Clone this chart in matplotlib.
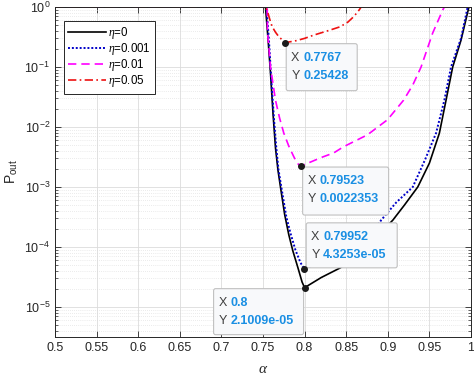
import matplotlib
matplotlib.use("Agg")
import matplotlib.pyplot as plt
from matplotlib.patches import FancyBboxPatch
from matplotlib.transforms import IdentityTransform
from matplotlib.ticker import LogLocator, FixedLocator

plt.rcParams['font.family'] = ['Liberation Sans', 'DejaVu Sans']
plt.rcParams['mathtext.fontset'] = 'custom'
plt.rcParams['mathtext.rm'] = 'Liberation Sans'
plt.rcParams['mathtext.it'] = 'Liberation Serif:italic'
plt.rcParams['mathtext.bf'] = 'Liberation Sans:bold'

# ---- data ----
labels = ['$\\eta$=0', '$\\eta$=0.001', '$\\eta$=0.01', '$\\eta$=0.05']

alpha_eta0 = [0.5, 0.753, 0.756, 0.759, 0.762, 0.765, 0.768, 0.7715, 0.776, 0.781, 0.786,
              0.792, 0.797, 0.8, 0.82, 0.843, 0.875, 0.906, 0.92, 0.936, 0.95, 0.962,
              0.970, 0.978, 0.988, 0.9975, 1.0]
p_eta0 = [1, 1, 0.3, 0.08, 0.017, 4.5e-3, 1.9e-3, 9.0e-4, 3.5e-4, 1.6e-4, 8.5e-5,
          4.5e-5, 2.6e-5, 2.1009e-5, 3.1e-5, 4.5e-5, 1.0e-4, 2.8e-4, 5.0e-4, 1.0e-3, 2.5e-3, 7.9e-3,
          0.028, 0.1, 0.28, 1, 1]

alpha_eta001 = [0.5, 0.754, 0.757, 0.760, 0.7635, 0.766, 0.7685, 0.772, 0.778, 0.783, 0.789,
                0.795, 0.7995, 0.82, 0.845, 0.867, 0.880, 0.892, 0.910, 0.930, 0.945, 0.958,
                0.968, 0.976, 0.988, 0.996, 1.0]
p_eta001 = [1, 1, 0.3, 0.06, 0.012, 4.5e-3, 2.0e-3, 1.0e-3, 3.2e-4, 1.7e-4, 8.9e-5,
            5.5e-5, 4.3253e-5, 5.6e-5, 7.0e-5, 8.9e-5, 1.6e-4, 2.8e-4, 5.5e-4, 1.0e-3, 2.9e-3, 7.9e-3,
            0.028, 0.1, 0.3, 1, 1]

alpha_eta01 = [0.5, 0.755, 0.7555, 0.7574, 0.759, 0.765, 0.770, 0.775, 0.781, 0.787, 0.791,
               0.7952, 0.807, 0.820, 0.835, 0.847, 0.8755, 0.8996, 0.919, 0.930, 0.940,
               0.954, 0.966, 0.968, 1.0]
p_eta01 = [1, 1, 0.37, 0.19, 0.1, 0.028, 0.014, 7.9e-3, 4.8e-3, 3.2e-3, 2.5e-3,
           2.2353e-3, 2.6e-3, 3.1e-3, 3.7e-3, 4.7e-3, 7.4e-3, 0.0132, 0.028, 0.05, 0.1,
           0.37, 0.89, 1, 1]

alpha_eta05 = [0.5, 0.752, 0.755, 0.758, 0.761, 0.765, 0.769, 0.7767, 0.79, 0.800, 0.811,
               0.83, 0.843, 0.852, 0.859, 0.865, 0.868, 1.0]
p_eta05 = [1, 1, 0.89, 0.63, 0.47, 0.38, 0.32, 0.25428, 0.275, 0.30, 0.34,
           0.41, 0.47, 0.56, 0.69, 0.87, 1, 1]

tips_x = [0.7767, 0.79523, 0.79952, 0.8]
tips_y = [0.25428, 0.0022353, 4.3253e-05, 2.1009e-05]
tips_xtxt = ['0.7767', '0.79523', '0.79952', '0.8']
tips_ytxt = ['0.25428', '0.0022353', '4.3253e-05', '2.1009e-05']

xticks = [0.5, 0.55, 0.6, 0.65, 0.7, 0.75, 0.8, 0.85, 0.9, 0.95, 1.0]
xticklabels = ['0.5', '0.55', '0.6', '0.65', '0.7', '0.75', '0.8', '0.85', '0.9', '0.95', '1']

# ---- figure ----
fig = plt.figure(figsize=(4.74, 3.75), dpi=100)
ax = fig.add_axes([55/474, 1-337/375, (471-55)/474, (337-7)/375])
axcol = '#262626'

ax.plot(alpha_eta0, p_eta0, color='black', lw=1.2, ls='-', label=labels[0])
ax.plot(alpha_eta001, p_eta001, color='#0000c8', lw=1.4, ls=(0, (1, 1)), label=labels[1])
ax.plot(alpha_eta01, p_eta01, color='#ff00ff', lw=1.2, ls=(0, (5, 3)), label=labels[2])
ax.plot(alpha_eta05, p_eta05, color='#ee1111', lw=1.2, ls=(0, (5, 2, 1, 2)), label=labels[3])

ax.set_yscale('log')
ax.set_xlim(0.5, 1.0)
ax.set_ylim(10**-5.5, 1)
ax.set_xticks(xticks)
ax.set_xticklabels(xticklabels)
ax.yaxis.set_major_locator(FixedLocator([1e-5, 1e-4, 1e-3, 1e-2, 1e-1, 1]))
ax.yaxis.set_minor_locator(LogLocator(base=10, subs=range(2, 10), numticks=20))

ax.tick_params(axis='both', which='both', direction='in', top=True, right=True,
               colors=axcol, labelcolor=axcol, labelsize=9)
ax.tick_params(which='major', length=4, width=0.6)
ax.tick_params(which='minor', length=2.2, width=0.5)
ax.tick_params(axis='x', which='minor', bottom=False, top=False)
for s in ax.spines.values():
    s.set_color(axcol)
    s.set_linewidth(0.7)

ax.grid(True, which='major', color='#dcdcdc', lw=0.6, ls='-')
ax.grid(True, which='minor', axis='y', color='#d8d8d8', lw=0.5, ls=(0, (1, 2)))
ax.set_axisbelow(True)

ax.set_xlabel('$\\alpha$', fontsize=11, color=axcol, labelpad=6)
ax.set_ylabel('P$_{\\mathrm{out}}$', fontsize=10, color=axcol, labelpad=3)

leg = ax.legend(loc='upper left', bbox_to_anchor=(8.5/416, 1-13.5/330), fontsize=8.3,
                handlelength=3.3, handletextpad=0.15, labelspacing=0.0,
                borderpad=0.4, borderaxespad=0, fancybox=False, framealpha=1)
leg.get_frame().set_edgecolor(axcol)
leg.get_frame().set_linewidth(0.7)

# ---- data tips ----
# (dx, dy) of box lower-left from the point in pixels, width, height in pixels
tip_boxes = [(1, -48, 71, 47), (2, -49, 86, 48), (2, 1, 91, 45), (-91, -47, 90, 46)]
fig.canvas.draw()
for xv, yv, xs, ys, (dx, dy, w, h) in zip(tips_x, tips_y, tips_xtxt, tips_ytxt, tip_boxes):
    px, py = ax.transData.transform((xv, yv))
    box = FancyBboxPatch((px + dx, py + dy), w, h, boxstyle='round,pad=0,rounding_size=2',
                         transform=IdentityTransform(),
                         facecolor='#f8f9fb', edgecolor='#c0c0c0', lw=0.8, zorder=5)
    ax.add_artist(box)
    for row, (lab, val) in enumerate([('X', xs), ('Y', ys)]):
        ty = py + dy + h - 14 - 18 * row
        ax.text(px + dx + 5, ty, lab, transform=IdentityTransform(),
                fontsize=9, color='#404040', va='center', ha='left', zorder=6)
        ax.text(px + dx + 17, ty, val, transform=IdentityTransform(),
                fontsize=9, color='#1a8fe3', fontweight='bold', va='center', ha='left', zorder=6)
    ax.plot([xv], [yv], 'o', color='#1a1a1a', ms=4, zorder=7)

fig.savefig('out.png', dpi=100)
